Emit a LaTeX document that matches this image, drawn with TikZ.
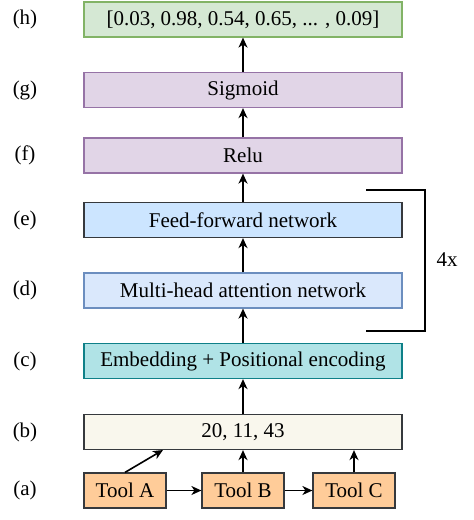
\documentclass[tikz,border=0pt]{standalone}
\usepackage{fontspec}
\setmainfont{Liberation Serif}
\usetikzlibrary{arrows.meta}

\definecolor{outfill}{HTML}{D5E8D4}
\definecolor{outline}{HTML}{82B366}
\definecolor{actfill}{HTML}{E1D5E7}
\definecolor{actline}{HTML}{9673A6}
\definecolor{fffill}{HTML}{CCE5FF}
\definecolor{darkline}{HTML}{36393D}
\definecolor{attfill}{HTML}{DAE8FC}
\definecolor{attline}{HTML}{6C8EBF}
\definecolor{embfill}{HTML}{B0E3E6}
\definecolor{embline}{HTML}{0E8088}
\definecolor{seqfill}{HTML}{F9F7ED}
\definecolor{toolfill}{HTML}{FFCC99}

\tikzset{
  txt/.style={font=\fontsize{21}{25}\selectfont, inner sep=0pt},
  layer/.style={txt, draw, line width=1.2pt, minimum width=318pt, minimum height=35pt},
  tool/.style={txt, draw=darkline, fill=toolfill, line width=1.2pt, minimum width=82pt, minimum height=35pt},
  flow/.style={-{Stealth[length=10pt,width=9pt,inset=3pt]}, line width=1.6pt},
}

\begin{document}
\begin{tikzpicture}[x=1pt,y=-1pt]
\useasboundingbox (0,0) rectangle (474,520);

% Layers
\node[layer, draw=outline, fill=outfill] (h) at (243,19.5) {[0.03, 0.98, 0.54, 0.65, ... , 0.09]};
\node[layer, draw=actline, fill=actfill] (g) at (243,90) {Sigmoid};
\node[layer, draw=actline, fill=actfill] (f) at (243,155.5) {Relu};
\node[layer, draw=darkline, fill=fffill] (e) at (243,220) {Feed-forward network};
\node[layer, draw=attline, fill=attfill] (d) at (243,290.5) {Multi-head attention network};
\node[layer, draw=embline, fill=embfill] (c) at (243,361) {Embedding + Positional encoding};
\node[layer, draw=darkline, fill=seqfill] (b) at (243,432) {20, 11, 43};

% Tools
\node[tool] (toolA) at (125,490.5) {Tool A};
\node[tool] (toolB) at (243,490.5) {Tool B};
\node[tool] (toolC) at (354,490.5) {Tool C};

% Row labels
\node[txt] (lh) at (25,19.5) {(h)};
\node[txt] (lg) at (25,90) {(g)};
\node[txt] (lf) at (25,155.5) {(f)};
\node[txt] (le) at (25,220) {(e)};
\node[txt] (ld) at (25,290.5) {(d)};
\node[txt] (lc) at (25,361) {(c)};
\node[txt] (lb) at (25,432) {(b)};
\node[txt] (la) at (25,490.5) {(a)};

% Arrows
\draw[flow] (g) -- (h);
\draw[flow] (f) -- (g);
\draw[flow] (e) -- (f);
\draw[flow] (d) -- (e);
\draw[flow] (c) -- (d);
\draw[flow] (b) -- (c);

\coordinate (bin) at (163,450);
\draw[flow] (toolA.north) -- (bin);
\draw[flow] (toolB) -- (b);
\draw[flow] (toolC.north) -- (toolC.north |- b.south);
\draw[flow] (toolA) -- (toolB);
\draw[flow] (toolB) -- (toolC);

% Repeat bracket
\coordinate (brtop) at (366,190);
\coordinate (brbot) at (366,331);
\draw[line width=2.5pt] (brtop) -- (425,190) -- (425,331) -- (brbot);
\node[txt] (rep) at (447,260) {4x};
\end{tikzpicture}
\end{document}
